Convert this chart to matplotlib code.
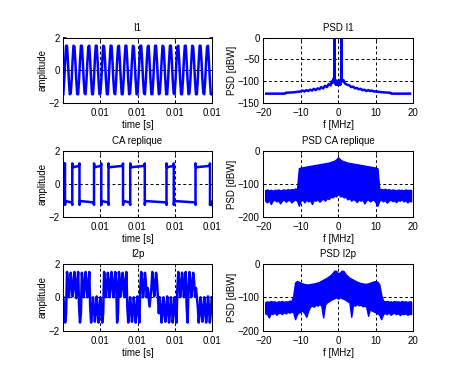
import numpy as np
import matplotlib
matplotlib.use("Agg")
import matplotlib.pyplot as plt
from matplotlib.ticker import FormatStrFormatter

plt.rcParams['font.family'] = ['Liberation Sans', 'DejaVu Sans']
plt.rcParams['font.size'] = 7

# ---------------- data ----------------
T0 = 0.00998          # start time [s]
DT_US = 0.125         # sample step [us]

i1_values = [
    -1.45, -0.60, 0.55, 1.50, 1.50, 0.55, -0.60, -1.45,
    -1.40, -0.60, 0.60, 1.50, 1.45, 0.55, -0.60, -1.45,
    -1.45, -0.55, 0.55, 1.50, 1.50, 0.60, -0.60, -1.40,
    -1.45, -0.60, 0.55, 1.45, 1.50, 0.55, -0.55, -1.45,
    -1.45, -0.60, 0.60, 1.50, 1.50, 0.55, -0.60, -1.45,
    -1.40, -0.60, 0.55, 1.50, 1.45, 0.55, -0.60, -1.45,
    -1.45, -0.55, 0.55, 1.50, 1.50, 0.60, -0.60, -1.40,
    -1.45, -0.60, 0.55, 1.45, 1.50, 0.55, -0.55, -1.45,
    -1.45, -0.60, 0.60, 1.50, 1.50, 0.55, -0.60, -1.45,
    -1.40, -0.60, 0.55, 1.50, 1.45, 0.55, -0.60, -1.45,
    -1.45, -0.55, 0.55, 1.50, 1.50, 0.60, -0.60, -1.40,
    -1.45, -0.60, 0.55, 1.45, 1.50, 0.55, -0.55, -1.45,
    -1.45, -0.60, 0.60, 1.50, 1.50, 0.55, -0.60, -1.45,
    -1.40, -0.60, 0.55, 1.50, 1.45, 0.55, -0.60, -1.45,
    -1.45, -0.55, 0.55, 1.50, 1.50, 0.60, -0.60, -1.40,
    -1.45, -0.60, 0.55, 1.45, 1.50, 0.55, -0.55, -1.45,
    -1.45, -0.60, 0.60, 1.50, 1.50, 0.55, -0.60, -1.45,
    -1.40, -0.60, 0.55, 1.50, 1.45, 0.55, -0.60, -1.45,
    -1.45, -0.55, 0.55, 1.50, 1.50, 0.60, -0.60, -1.40,
    -1.45, -0.60, 0.55, 1.45, 1.50, 0.55, -0.55, -1.45,
    -1.45,
]

i2p_values = [
    0.00, -0.55, -1.50, -0.95, 1.50, 0.95, 0.00, 0.55,
    1.45, 0.90, 0.05, 0.55, 1.50, 0.95, -0.05, 0.60,
    1.50, -0.55, -1.50, -0.95, 1.45, 0.95, 0.00, 0.55,
    1.50, 0.90, 0.00, 0.55, 1.50, -0.55, -1.50, -0.90,
    0.00, -0.55, -1.45, -0.95, 0.05, -0.55, -1.50, -0.95,
    0.00, -0.60, -1.50, -0.95, 1.50, 0.95, 0.00, 0.55,
    1.45, 0.95, 0.00, 0.60, 1.50, 0.90, 0.00, 0.55,
    1.50, 0.95, -1.50, -0.95, 1.50, 0.95, 0.05, 0.55,
    1.45, 0.95, 0.00, 0.55, 1.50, -0.55, -1.50, -0.95,
    0.00, -0.55, -1.45, -0.95, 0.00, -0.60, -1.50, -0.90,
    0.05, -0.55, -1.50, 0.55, 1.50, 0.95, 0.00, 0.55,
    1.45, 0.90, 0.00, 0.55, 0.00, -0.55, 0.00, 0.55,
    1.50, 0.95, 0.05, 0.55, 1.45, 0.95, 0.00, -0.95,
    0.00, -0.55, -1.50, -0.95, 0.00, -0.55, -1.45, -0.95,
    0.05, -0.60, -1.50, -0.95, 0.00, -0.55, -1.50, -0.90,
    0.00, -0.55, -1.50, 0.55, 1.50, 0.95, 0.00, 0.60,
    1.45, 0.95, 0.00, 0.55, 1.50, -0.55, -1.50, 0.55,
    1.50, 0.90, 0.00, 0.55, 1.45, 0.95, 0.05, 0.55,
    0.00, -0.55, -1.50, -0.95, 0.00, -0.60, -1.45, -0.95,
    0.00, -0.55, -1.50, -0.90, 0.05, -0.55, -1.50, -0.95,
    0.00,
]

# C/A replica: chip transition times [us] and level of each segment
ca_edges_us = [0.23, 1.21, 2.18, 4.14, 5.12, 6.09, 8.05, 9.02,
               10.98, 13.91, 14.89, 17.82, 19.77]
ca_levels = [1, -1, 1, -1, 1, -1, 1, -1, 1, -1, 1, -1, 1, -1]
ca_flat = 1.02
ca_peak = 1.25

# PSD I1 [dBW]
psd_i1_freq = [-19.2, -14.2, -14.0, -12.0, -11.0, -10.0, -9.5, -9.0, -8.5, -8.0,
               -7.5, -7.0, -6.5, -6.0, -5.5, -5.0, -4.5, -4.0, -3.5, -3.0,
               -2.5, -2.0, -1.7, -1.4, -1.2, -1.02, -0.98, -0.94, -0.8, -0.6,
               -0.4, -0.2, 0.0, 0.2, 0.4, 0.6, 0.80, 0.85, 0.90, 1.1,
               1.4, 1.7, 2.0, 2.5, 3.0, 3.5, 4.0, 4.5, 5.0, 5.5,
               6.0, 6.5, 7.0, 7.5, 8.0, 8.5, 9.0, 9.5, 10.0, 11.0,
               12.0, 14.0, 14.2, 19.2]
psd_i1_db = [-128, -128, -126, -125, -124, -123, -121, -123, -120, -122,
             -119, -121, -117, -120, -116, -118, -113, -116, -110, -113,
             -106, -109, -100, -103, -93, -96, 40, -95, -103, -108,
             -98, -108, -100, -108, -98, -108, -95, 40, -93, -100,
             -97, -103, -106, -108, -109, -113, -112, -116, -115, -118,
             -117, -120, -119, -122, -120, -122, -121, -123, -123, -124,
             -125, -126, -128, -128]

# frequency grid of the C/A and I2p spectra [MHz]
psd_freq = [-19.5, -19.0, -18.5, -18.0, -17.5, -17.0, -16.5, -16.0, -15.5, -15.0,
            -14.5, -14.0, -13.5, -13.0, -12.5, -12.0, -11.5, -11.0, -10.5, -10.0,
            -9.5, -9.0, -8.5, -8.0, -7.5, -7.0, -6.5, -6.0, -5.5, -5.0,
            -4.5, -4.0, -3.5, -3.0, -2.5, -2.0, -1.5, -1.0, -0.5, 0.0,
            0.5, 1.0, 1.5, 2.0, 2.5, 3.0, 3.5, 4.0, 4.5, 5.0,
            5.5, 6.0, 6.5, 7.0, 7.5, 8.0, 8.5, 9.0, 9.5, 10.0,
            10.5, 11.0, 11.5, 12.0, 12.5, 13.0, 13.5, 14.0, 14.5, 15.0,
            15.5, 16.0, 16.5, 17.0, 17.5, 18.0, 18.5, 19.0, 19.5]

psd_ca_upper = [-118, -116, -119, -117, -120, -117, -118, -116, -119, -117,
                -116, -118, -115, -117, -115, -116, -113, -115, -52, -50,
                -49, -48, -47, -46, -45, -44, -43, -42, -41, -40,
                -39, -38, -37, -36, -35, -33, -31, -29, -25, -19,
                -25, -29, -31, -33, -35, -36, -37, -38, -39, -40,
                -41, -42, -43, -44, -45, -46, -47, -48, -49, -50,
                -52, -114, -115, -116, -114, -117, -115, -118, -116, -117,
                -119, -116, -118, -117, -119, -116, -118, -117, -118]
psd_ca_lower = [-150, -155, -148, -160, -150, -147, -152, -149, -158, -150,
                -146, -153, -149, -147, -155, -150, -146, -150, -165, -150,
                -147, -155, -146, -152, -148, -160, -147, -150, -145, -153,
                -147, -144, -150, -142, -145, -138, -140, -135, -137, -125,
                -137, -135, -140, -138, -146, -142, -150, -145, -148, -154,
                -146, -150, -147, -158, -149, -146, -152, -148, -147, -155,
                -165, -150, -147, -152, -148, -156, -150, -147, -151, -149,
                -154, -148, -150, -146, -152, -149, -155, -150, -152]

psd_i2p_upper = [-115, -112, -114, -111, -113, -112, -115, -112, -113, -111,
                 -114, -112, -113, -110, -112, -95, -56, -52, -54, -57,
                 -59, -61, -62, -62, -61, -60, -59, -58, -56, -54,
                 -51, -48, -45, -42, -38, -34, -28, -21, -22, -30,
                 -26, -21, -23, -32, -37, -42, -45, -48, -51, -54,
                 -56, -58, -59, -60, -60, -59, -57, -55, -53, -52,
                 -54, -62, -92, -110, -112, -111, -113, -112, -114, -111,
                 -113, -112, -114, -111, -113, -112, -114, -112, -113]
psd_i2p_lower = [-148, -150, -160, -147, -150, -145, -152, -147, -146, -150,
                 -144, -148, -143, -146, -142, -145, -165, -150, -145, -142,
                 -140, -148, -158, -140, -128, -125, -128, -122, -125, -120,
                 -125, -160, -122, -115, -112, -108, -105, -103, -100, -104,
                 -100, -103, -105, -108, -112, -115, -158, -122, -125, -120,
                 -124, -122, -127, -125, -128, -155, -135, -140, -142, -145,
                 -148, -152, -165, -150, -147, -150, -145, -152, -148, -146,
                 -150, -147, -153, -148, -150, -147, -152, -149, -150]

# ---------------- figure ----------------
W, H = 460, 384
fig = plt.figure(figsize=(W / 100, H / 100), dpi=100)
fig.patch.set_facecolor('white')

def ax_at(x0, x1, y0, y1):
    return fig.add_axes([x0 / W, 1 - y1 / H, (x1 - x0) / W, (y1 - y0) / H])

rows = [(37.5, 103.3), (151.0, 217.3), (263.5, 331.0)]
left_x = (63.3, 211.7)
right_x = (263.3, 413.0)

BLUE = (0, 0, 1)
LW = 1.8

def style(ax):
    ax.set_axisbelow(True)
    ax.grid(True, color='black', linestyle=(0, (3.0, 2.6)), linewidth=0.7)
    ax.tick_params(direction='in', length=2.5, width=0.6, top=True, right=True,
                   labelsize=7)
    ax.tick_params(axis='x', pad=3.5)
    ax.tick_params(axis='y', pad=2.5)
    for s in ax.spines.values():
        s.set_linewidth(0.75)
        s.set_color('black')

def time_axes(ax, title):
    ax.set_xlim(T0, T0 + 20e-6)
    ax.set_xticks([T0 + 5e-6, T0 + 10e-6, T0 + 15e-6, T0 + 20e-6])
    ax.xaxis.set_major_formatter(FormatStrFormatter('%.2f'))
    ax.set_ylim(-2, 2)
    ax.set_yticks([-2, 0, 2])
    ax.set_title(title, fontsize=7, pad=5)
    ax.set_xlabel('time [s]', labelpad=1.5)
    ax.set_ylabel('amplitude', labelpad=0.5)
    style(ax)

def psd_axes(ax, title, ylim, yticks):
    ax.set_xlim(-20, 20)
    ax.set_xticks([-20, -10, 0, 10, 20])
    ax.set_ylim(*ylim)
    ax.set_yticks(yticks)
    ax.set_title(title, fontsize=7, pad=5)
    ax.set_xlabel('f [MHz]', labelpad=1.5)
    ax.set_ylabel('PSD [dBW]', labelpad=0.5)
    style(ax)

def times(n):
    return [T0 + k * DT_US * 1e-6 for k in range(n)]

# I1
ax = ax_at(*left_x, *rows[0])
ax.plot(times(len(i1_values)), i1_values, color=BLUE, lw=LW)
time_axes(ax, 'I1')

# CA replique
bounds = [0.0] + ca_edges_us + [20.0]
ca_t, ca_v = [], []
for a, b, s in zip(bounds[:-1], bounds[1:], ca_levels):
    ca_t += [a, min(a + 0.07, b), max(b - 0.07, a), b]
    ca_v += [s * ca_peak, s * ca_flat, s * (ca_flat + 0.08), s * ca_peak]
ax = ax_at(*left_x, *rows[1])
ax.plot([T0 + t * 1e-6 for t in ca_t], ca_v, color=BLUE, lw=LW)
time_axes(ax, 'CA replique')

# I2p
ax = ax_at(*left_x, *rows[2])
ax.plot(times(len(i2p_values)), i2p_values, color=BLUE, lw=LW)
time_axes(ax, 'I2p')

# PSD I1
ax = ax_at(*right_x, *rows[0])
ax.plot(psd_i1_freq, psd_i1_db, color=BLUE, lw=LW)
psd_axes(ax, 'PSD I1', (-150, 0), [-150, -100, -50, 0])

# PSD CA
ax = ax_at(*right_x, *rows[1])
ax.fill_between(psd_freq, psd_ca_lower, psd_ca_upper, color=BLUE, lw=1.0)
psd_axes(ax, 'PSD CA replique', (-200, 0), [-200, -100, 0])

# PSD I2p
ax = ax_at(*right_x, *rows[2])
ax.fill_between(psd_freq, psd_i2p_lower, psd_i2p_upper, color=BLUE, lw=1.0)
psd_axes(ax, 'PSD I2p', (-200, 0), [-200, -100, 0])

fig.savefig('out.png', dpi=100, facecolor='white')
